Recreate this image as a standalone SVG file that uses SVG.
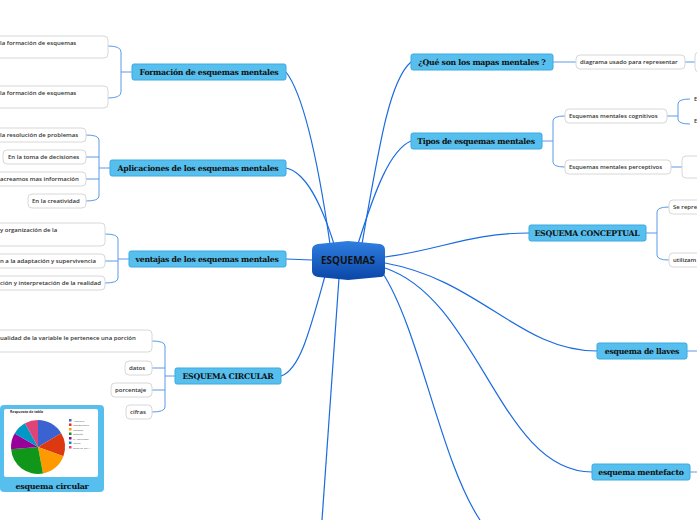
<svg xmlns="http://www.w3.org/2000/svg" width="697" height="520" viewBox="0 0 697 520">
<defs>
<linearGradient id="cg" x1="0" y1="0" x2="0" y2="1"><stop offset="0" stop-color="#2f7fe0"/><stop offset="1" stop-color="#0a46a8"/></linearGradient>
</defs>
<style>
.m{fill:#56bfee;stroke:#3aa9e0;stroke-width:1}
.mt{font-family:"DejaVu Serif",serif;font-weight:bold;font-size:7.8px;fill:#111;text-anchor:middle;letter-spacing:-0.3px}
.s{fill:#fff;stroke:#d8d8d8;stroke-width:1}
.st{font-family:"Open Sans","Noto Sans",sans-serif;font-weight:600;font-size:6px;fill:#333}
.c{fill:none;stroke:#1a6be0;stroke-width:1.2}
.b{fill:none;stroke:#5b9ae8;stroke-width:1}
</style>
<rect width="697" height="520" fill="#fff"/>
<g id="connectors">
<path class="c" d="M330,244 C315,140 300,90 286,72"/>
<path class="c" d="M334,244 C320,200 305,172 286,168"/>
<path class="c" d="M312,260 L286,259"/>
<path class="c" d="M325,276 C310,330 300,370 281,376"/>
<path class="c" d="M362,244 C380,140 390,80 411,62"/>
<path class="c" d="M358,244 C375,190 390,150 411,141"/>
<path class="c" d="M385,257 C440,250 470,233 529,233"/>
<path class="c" d="M385,263 C480,280 520,351 597,351"/>
<path class="c" d="M385,268 C480,300 500,472 592,472"/>
<path class="c" d="M339,278 C330,400 325,470 322,520"/>
<path class="c" d="M382,272 C420,330 440,460 480,520"/>
<path class="b" d="M132,72 H121 M108,46 Q121,46 121,52 V92 Q121,98 108,98"/>
<path class="b" d="M110,168 H99 M86,135 Q99,135 99,140 V196 Q99,201 86,201 M86,157 H99 M86,179 H99"/>
<path class="b" d="M129,259 H118 M105,234 Q118,234 118,239 V278 Q118,283 105,283 M105,261 H118"/>
<path class="b" d="M175,376 H165 M152,341 Q165,341 165,346 V407 Q165,412 152,412 M152,368 H165 M152,390 H165"/>
<path class="b" d="M553,62 H576 M685,62 H697"/>
<path class="b" d="M542,141 H553 M565,116 Q553,116 553,121 V162 Q553,167 565,167"/>
<path class="b" d="M667,116 H678 M690,99 Q678,99 678,104 V116 M678,116 V119 Q678,124 690,124 M671,167 H682"/>
<path class="b" d="M646,233 H657 M669,207 Q657,207 657,212 V255 Q657,260 669,260"/>
<path class="b" d="M687,351 H697 M690,472 H697"/>
</g>
<g id="center"><path d="M318,244 L348,241 L380,244 Q385,245 385,250 L385,272 Q385,277 380,277 L348,280 L318,277 Q312,276 312,271 L312,250 Q312,245 318,244Z" fill="url(#cg)"/><text x="348" y="264" font-family="Open Sans,sans-serif" font-weight="bold" font-size="10px" fill="#111" text-anchor="middle">ESQUEMAS</text></g>
<g id="n1"><rect class="m" x="132" y="64" width="154" height="16" rx="2"/><text class="mt" x="209" y="75">Formación de esquemas mentales</text></g>
<g id="n2"><rect class="m" x="110" y="160" width="176" height="16" rx="2"/><text class="mt" x="198" y="171">Aplicaciones de los esquemas mentales</text></g>
<g id="n3"><rect class="m" x="129" y="251" width="157" height="16" rx="2"/><text class="mt" x="207" y="262">ventajas de los esquemas mentales</text></g>
<g id="n4"><rect class="m" x="175" y="368" width="106" height="16" rx="2"/><text class="mt" x="228" y="379">ESQUEMA CIRCULAR</text></g>
<g id="n5"><rect class="m" x="411" y="54" width="142" height="16" rx="2"/><text class="mt" x="482" y="65">¿Qué son los mapas mentales ?</text></g>
<g id="n6"><rect class="m" x="411" y="133" width="131" height="16" rx="2"/><text class="mt" x="476" y="144">Tipos de esquemas mentales</text></g>
<g id="n7"><rect class="m" x="529" y="225" width="117" height="16" rx="2"/><text class="mt" x="587" y="236">ESQUEMA CONCEPTUAL</text></g>
<g id="n8"><rect class="m" x="597" y="343" width="90" height="16" rx="2"/><text class="mt" x="642" y="354">esquema de llaves</text></g>
<g id="n9"><rect class="m" x="592" y="464" width="98" height="16" rx="2"/><text class="mt" x="641" y="475">esquema mentefacto</text></g>
<g id="s1"><rect class="s" x="-10" y="36" width="118" height="22" rx="4"/><text class="st" x="0" y="45">la formación de esquemas</text></g>
<g id="s2"><rect class="s" x="-10" y="86" width="118" height="22" rx="4"/><text class="st" x="0" y="95">la formación de esquemas</text></g>
<g id="s3"><rect class="s" x="-10" y="128" width="96" height="14" rx="4"/><text class="st" x="0" y="137">la resolución de problemas</text></g>
<g id="s4"><rect class="s" x="3" y="150" width="83" height="14" rx="4"/><text class="st" x="8" y="159">En la toma de decisiones</text></g>
<g id="s5"><rect class="s" x="-10" y="172" width="96" height="14" rx="4"/><text class="st" x="0" y="181">acreamos mas información</text></g>
<g id="s6"><rect class="s" x="28" y="194" width="58" height="14" rx="4"/><text class="st" x="32" y="203">En la creatividad</text></g>
<g id="s7"><rect class="s" x="-10" y="223" width="115" height="23" rx="4"/><text class="st" x="0" y="232">y organización de la</text></g>
<g id="s8"><rect class="s" x="-10" y="254" width="115" height="14" rx="4"/><text class="st" x="0" y="263">n a la adaptación y supervivencia</text></g>
<g id="s9"><rect class="s" x="-10" y="276" width="115" height="14" rx="4"/><text class="st" x="0" y="285">ción y interpretación de la realidad</text></g>
<g id="s10"><rect class="s" x="-10" y="330" width="162" height="22" rx="4"/><text class="st" x="0" y="340">ualidad de la variable le pertenece una porción</text></g>
<g id="s11"><rect class="s" x="125" y="361" width="27" height="14" rx="4"/><text class="st" x="129" y="370">datos</text></g>
<g id="s12"><rect class="s" x="111" y="383" width="41" height="14" rx="4"/><text class="st" x="115" y="392">porcentaje</text></g>
<g id="s13"><rect class="s" x="126" y="405" width="26" height="14" rx="4"/><text class="st" x="130" y="414">cifras</text></g>
<g id="s14"><rect class="s" x="576" y="55" width="109" height="14" rx="4"/><text class="st" x="580" y="64">diagrama usado para representar</text><rect class="s" x="695" y="52" width="20" height="20" rx="4"/></g>
<g id="s15"><rect class="s" x="565" y="109" width="102" height="14" rx="4"/><text class="st" x="569" y="118">Esquemas mentales cognitivos</text></g>
<g id="s16"><rect class="s" x="565" y="160" width="106" height="14" rx="4"/><text class="st" x="569" y="169">Esquemas mentales perceptivos</text><rect class="s" x="682" y="156" width="30" height="22" rx="4"/></g>
<g id="s17"><text class="st" x="694" y="101">E</text><text class="st" x="694" y="123">E</text></g>
<g id="s18"><rect class="s" x="669" y="200" width="40" height="14" rx="4"/><text class="st" x="673" y="209">Se repre</text></g>
<g id="s19"><rect class="s" x="669" y="253" width="40" height="14" rx="4"/><text class="st" x="673" y="262">utilizam</text></g>
<g id="img">
<rect x="0" y="405" width="104" height="87" rx="4" fill="#56bfee"/>
<rect x="4" y="409" width="94" height="68" rx="2" fill="#fff"/>
<text x="10" y="413" font-family="Open Sans,sans-serif" font-size="3.5px" font-weight="bold" fill="#333">Respuesta de tabla</text>
<g transform="translate(38,447)">
<path d="M0,0 L0,-27 A27,27 0 0 1 23.2,-13.8Z" fill="#3a62d0"/>
<path d="M0,0 L23.2,-13.8 A27,27 0 0 1 25.4,9.2Z" fill="#dc3912"/>
<path d="M0,0 L25.4,9.2 A27,27 0 0 1 5,26.5Z" fill="#ff9900"/>
<path d="M0,0 L5,26.5 A27,27 0 0 1 -26.9,2.2Z" fill="#109618"/>
<path d="M0,0 L-26.9,2.2 A27,27 0 0 1 -23.4,-13.5Z" fill="#990099"/>
<path d="M0,0 L-23.4,-13.5 A27,27 0 0 1 -13,-23.7Z" fill="#0099c6"/>
<path d="M0,0 L-13,-23.7 A27,27 0 0 1 0,-27Z" fill="#dd4477"/>
</g>
<g font-family="sans-serif" font-size="2.5px" fill="#555">
<rect x="69" y="419" width="2.5" height="2.5" fill="#3a62d0"/><rect x="69" y="423.5" width="2.5" height="2.5" fill="#dc3912"/><rect x="69" y="428" width="2.5" height="2.5" fill="#ff9900"/><rect x="69" y="432.5" width="2.5" height="2.5" fill="#109618"/><rect x="69" y="437" width="2.5" height="2.5" fill="#990099"/><rect x="69" y="441.5" width="2.5" height="2.5" fill="#0099c6"/><rect x="69" y="446" width="2.5" height="2.5" fill="#dd4477"/>
<text x="73" y="421.5">Andalucía</text><text x="73" y="426">Islas Baleares</text><text x="73" y="430.5">Canarias</text><text x="73" y="435">Cataluña</text><text x="73" y="439.5">C. Valenciana</text><text x="73" y="444">Murcia</text><text x="73" y="448.5">Resto de CCAA</text>
</g>
<text x="52" y="489" font-family="DejaVu Serif,serif" font-weight="bold" font-size="8px" fill="#111" text-anchor="middle" letter-spacing="-0.3">esquema circular</text>
</g>
</svg>
